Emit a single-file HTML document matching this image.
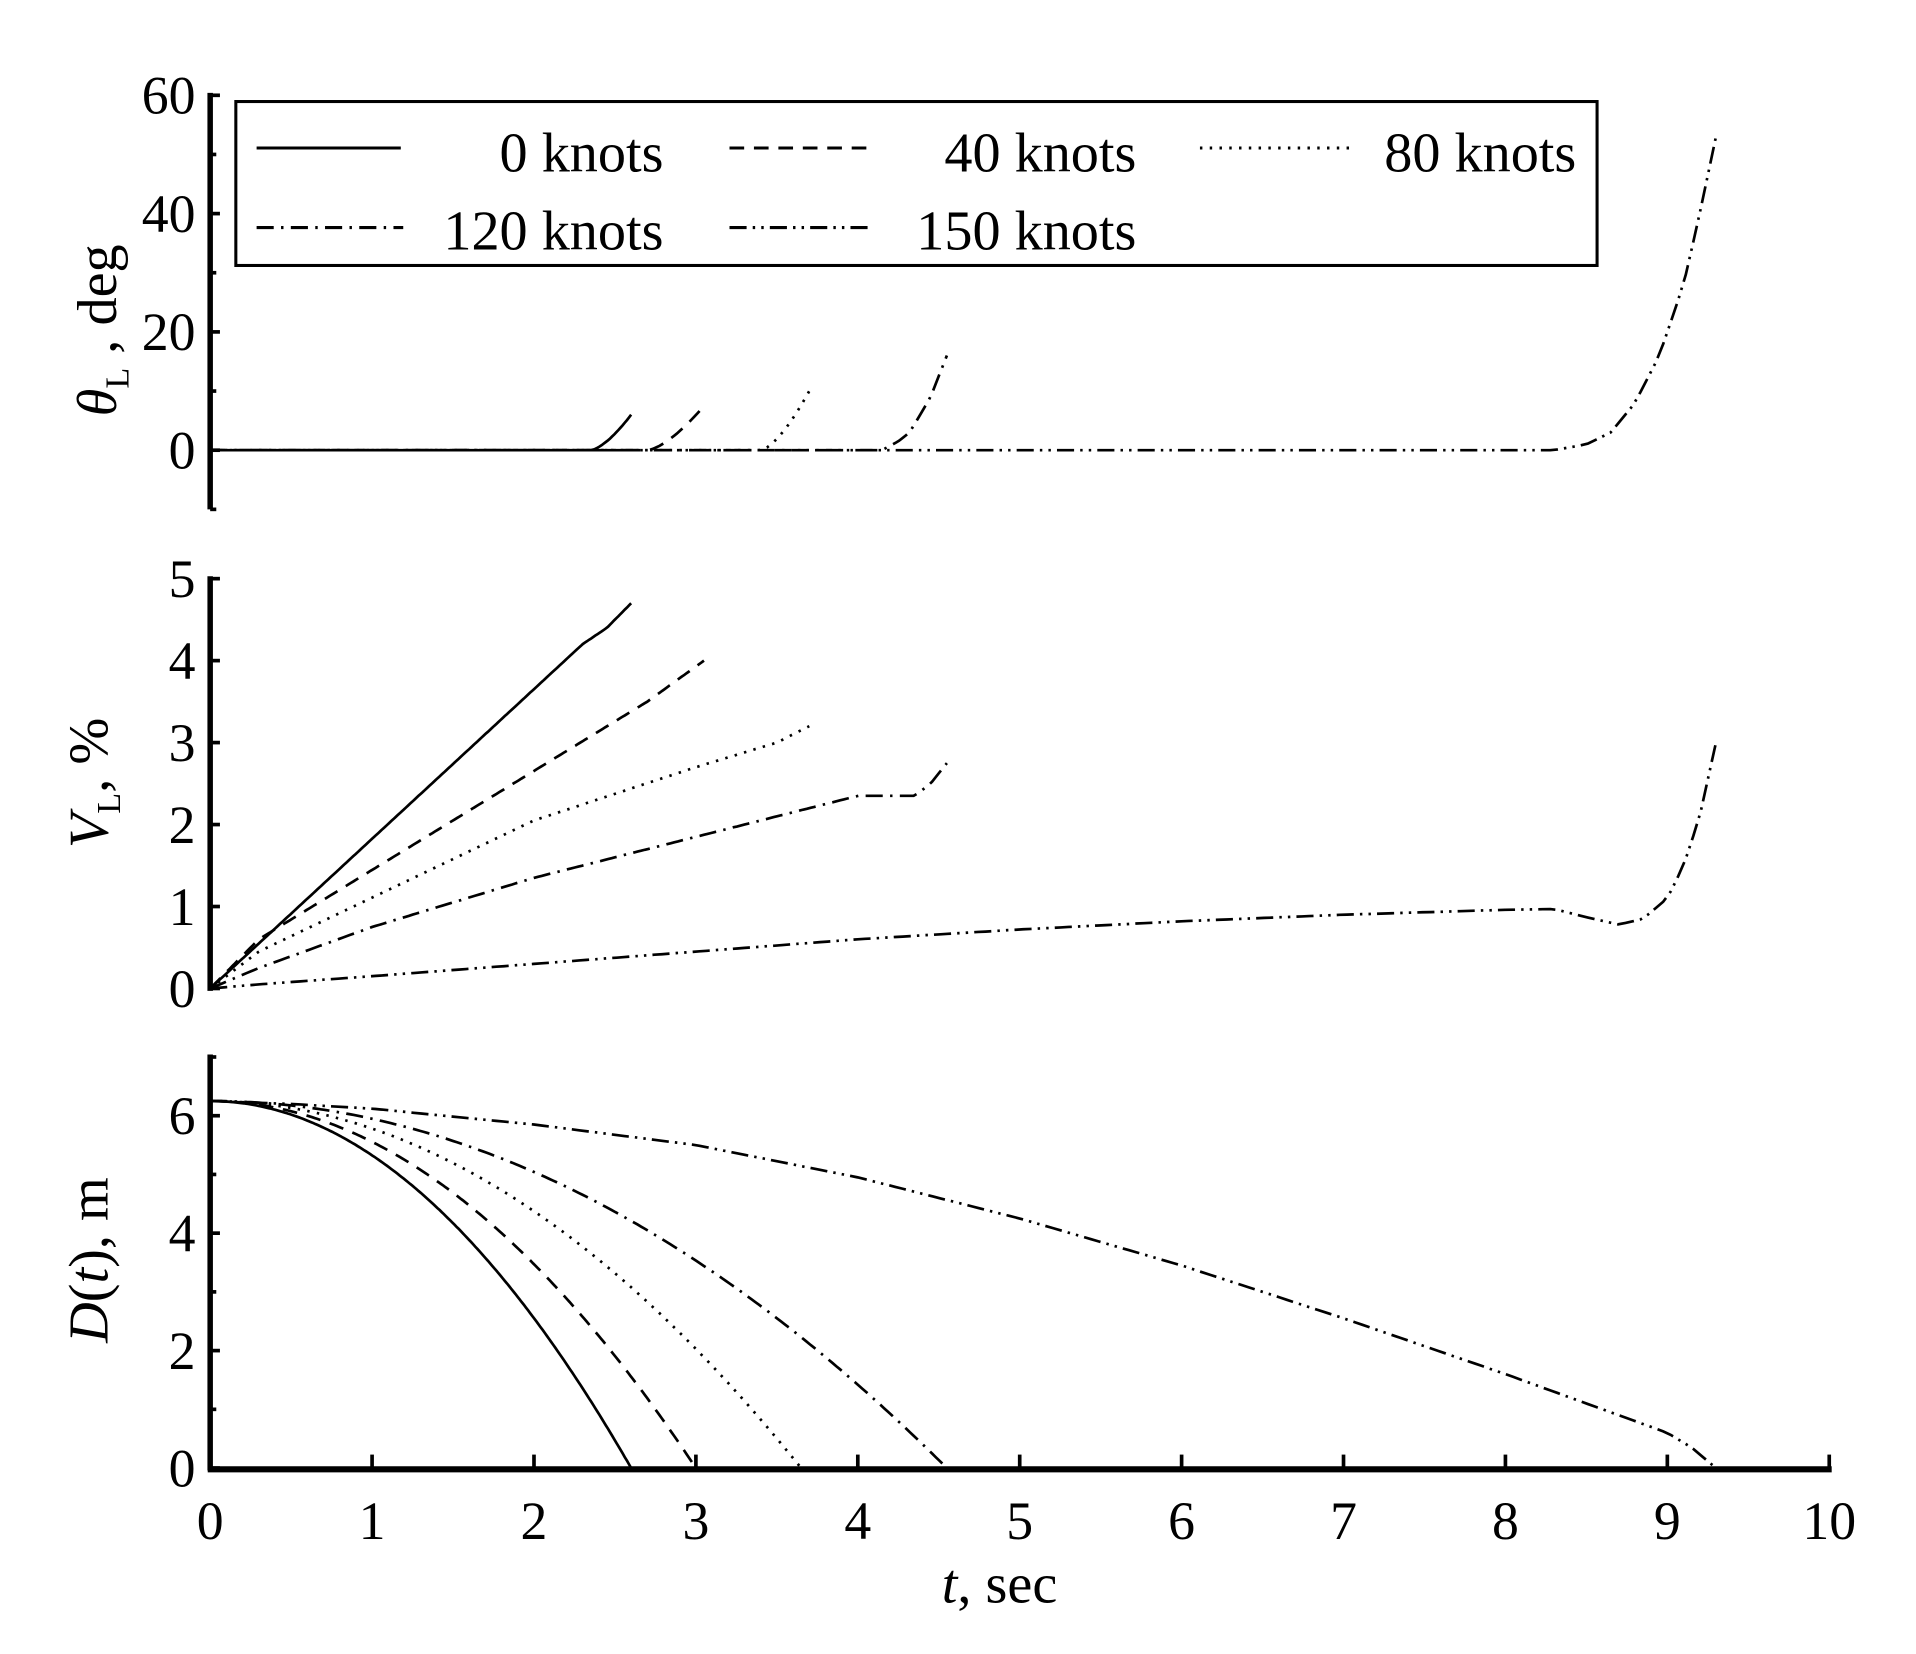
<!DOCTYPE html>
<html><head><meta charset="utf-8"><style>
html,body{margin:0;padding:0;background:#fff;}
svg{display:block;}
text{font-family:"Liberation Serif",serif;fill:#000;}
</style></head><body>
<svg id="s" width="1916" height="1654" viewBox="0 0 1568 1352" preserveAspectRatio="none" xmlns="http://www.w3.org/2000/svg">
<g id="axes" stroke="#000" fill="none" stroke-linecap="butt"></g>
<g id="curves" fill="none" stroke="#000" stroke-width="2.2"></g>
<rect x="193" y="83" width="1114" height="134" fill="#fff" stroke="#000" stroke-width="2.5"/>
<g stroke="#000" stroke-width="2.5">
<line x1="210" y1="121" x2="328" y2="121"/>
<line x1="597" y1="121" x2="710" y2="121" stroke-dasharray="12 8"/>
<line x1="982" y1="121" x2="1108" y2="121" stroke-dasharray="2 6"/>
<line x1="210" y1="186" x2="330" y2="186" stroke-dasharray="14 6 2 6"/>
<line x1="597" y1="186" x2="712" y2="186" stroke-dasharray="14 5 2 5 2 5"/>
</g>
<g font-size="46">
<text x="543" y="140" text-anchor="end">0 knots</text>
<text x="930" y="140" text-anchor="end">40 knots</text>
<text x="1290" y="140" text-anchor="end">80 knots</text>
<text x="543" y="204" text-anchor="end">120 knots</text>
<text x="930" y="204" text-anchor="end">150 knots</text>
</g>
<g font-size="44" text-anchor="end" id="ylab"></g>
<g font-size="44" text-anchor="middle" id="xlab"></g>
<text transform="translate(95,270) rotate(-90)" font-size="46" text-anchor="middle"><tspan font-style="italic">θ</tspan><tspan font-size="28" dy="10">L</tspan><tspan dy="-10"> , deg</tspan></text>
<text transform="translate(88,640) rotate(-90)" font-size="46" text-anchor="middle"><tspan font-style="italic">V</tspan><tspan font-size="28" dy="10">L</tspan><tspan dy="-10">, %</tspan></text>
<text transform="translate(88,1030) rotate(-90)" font-size="46" text-anchor="middle"><tspan font-style="italic">D</tspan>(<tspan font-style="italic">t</tspan>), m</text>
<text x="818" y="1310" font-size="46" text-anchor="middle"><tspan font-style="italic">t</tspan>, sec</text>
</svg>
<script>
var NS="http://www.w3.org/2000/svg";
function el(p,t,a){var e=document.createElementNS(NS,t);for(var k in a)e.setAttribute(k,a[k]);p.appendChild(e);return e;}
var ax=document.getElementById('axes'),cv=document.getElementById('curves'),yl=document.getElementById('ylab'),xl=document.getElementById('xlab');
var X0=172,XS=132.5;
function X(t){return X0+t*XS;}
var P=[{y0:368,s:96.7/20,lo:-10,hi:60,maj:[0,20,40,60],min:[-10,10,30,50]},
       {y0:808,s:67,lo:0,hi:5,maj:[0,1,2,3,4,5],min:[]},
       {y0:1200,s:48,lo:0,hi:7,maj:[0,2,4,6],min:[1,3,5,7]}];
P.forEach(function(p){
  function Y(v){return p.y0-v*p.s;}
  el(ax,'line',{x1:X0,y1:Y(p.lo)+(p.lo<0?0:2),x2:X0,y2:Y(p.hi)-2,'stroke-width':4.5});
  p.maj.forEach(function(v){el(ax,'line',{x1:X0,y1:Y(v),x2:X0+8,y2:Y(v),'stroke-width':3});
    var t=el(yl,'text',{x:160,y:Y(v)+15});t.textContent=v;});
  p.min.forEach(function(v){el(ax,'line',{x1:X0,y1:Y(v),x2:X0+5,y2:Y(v),'stroke-width':3});});
  p.Y=Y;
});
el(ax,'line',{x1:X0-2,y1:1201,x2:1499,y2:1201,'stroke-width':5});
for(var i=0;i<=10;i++){el(ax,'line',{x1:X(i),y1:1201,x2:X(i),y2:1189,'stroke-width':3});var t=el(xl,'text',{x:X(i),y:1258});t.textContent=i;}
var D=['', '12 8','2 6','14 6 2 6','14 5 2 5 2 5'];
function draw(pi,f,a,b,k){var pts=[];for(var i=0;i<=200;i++){var t=a+(b-a)*i/200;pts.push(X(t).toFixed(1)+','+P[pi].Y(f(t)).toFixed(1));}
  var e=el(cv,'polyline',{points:pts.join(' ')});if(D[k])e.setAttribute('stroke-dasharray',D[k]);}
function interp(ps){return function(t){for(var i=1;i<ps.length;i++){if(t<=ps[i][0]){var a=ps[i-1],b=ps[i];var u=(t-a[0])/(b[0]-a[0]);return a[1]+(b[1]-a[1])*u;}}return ps[ps.length-1][1];};}
function rise(t0,t1,v,pw){return function(t){return t<t0?0:v*Math.pow((t-t0)/(t1-t0),pw);};}
draw(0,rise(2.35,2.6,6,1.5),0,2.6,0);
draw(0,rise(2.7,3.05,7.5,1.5),0,3.05,1);
draw(0,rise(3.4,3.7,10,1.5),0,3.7,2);
draw(0,interp([[0,0],[4.15,0],[4.25,1.5],[4.32,3],[4.45,9],[4.55,16]]),0,4.55,3);
draw(0,interp([[0,0],[8.3,0],[8.5,1],[8.65,3],[8.8,8],[8.95,16],[9.1,28],[9.2,40],[9.3,53]]),0,9.3,4);
draw(1,interp([[0,0],[2.3,4.2],[2.45,4.4],[2.6,4.7]]),0,2.6,0);
draw(1,interp([[0,0],[0.3,0.6],[2.7,3.5],[3.05,4.0]]),0,3.05,1);
draw(1,interp([[0,0],[0.3,0.45],[2,2.05],[3,2.7],[3.5,3.0],[3.7,3.2]]),0,3.7,2);
draw(1,interp([[0,0],[0.3,0.25],[1,0.75],[2,1.35],[3,1.85],[4,2.35],[4.35,2.35],[4.45,2.5],[4.55,2.75]]),0,4.55,3);
draw(1,interp([[0,0],[0.3,0.05],[1,0.15],[2,0.3],[3,0.45],[4,0.6],[5,0.72],[6,0.82],[7,0.9],[8,0.96],[8.3,0.97],[8.5,0.87],[8.7,0.78],[8.85,0.85],[9.0,1.1],[9.1,1.5],[9.2,2.1],[9.3,3.0]]),0,9.3,4);
function par(T){return function(t){return 6.25*(1-Math.pow(t/T,2));};}
draw(2,par(2.6),0,2.6,0);
draw(2,par(3.0),0,3.0,1);
draw(2,par(3.65),0,3.65,2);
draw(2,par(4.55),0,4.55,3);
draw(2,interp([[0,6.25],[0.5,6.2],[1,6.12],[2,5.85],[3,5.5],[4,4.95],[5,4.25],[6,3.45],[7,2.55],[8,1.6],[8.5,1.1],[9,0.6],[9.15,0.35],[9.3,0]]),0,9.3,4);
</script>
</body></html>
